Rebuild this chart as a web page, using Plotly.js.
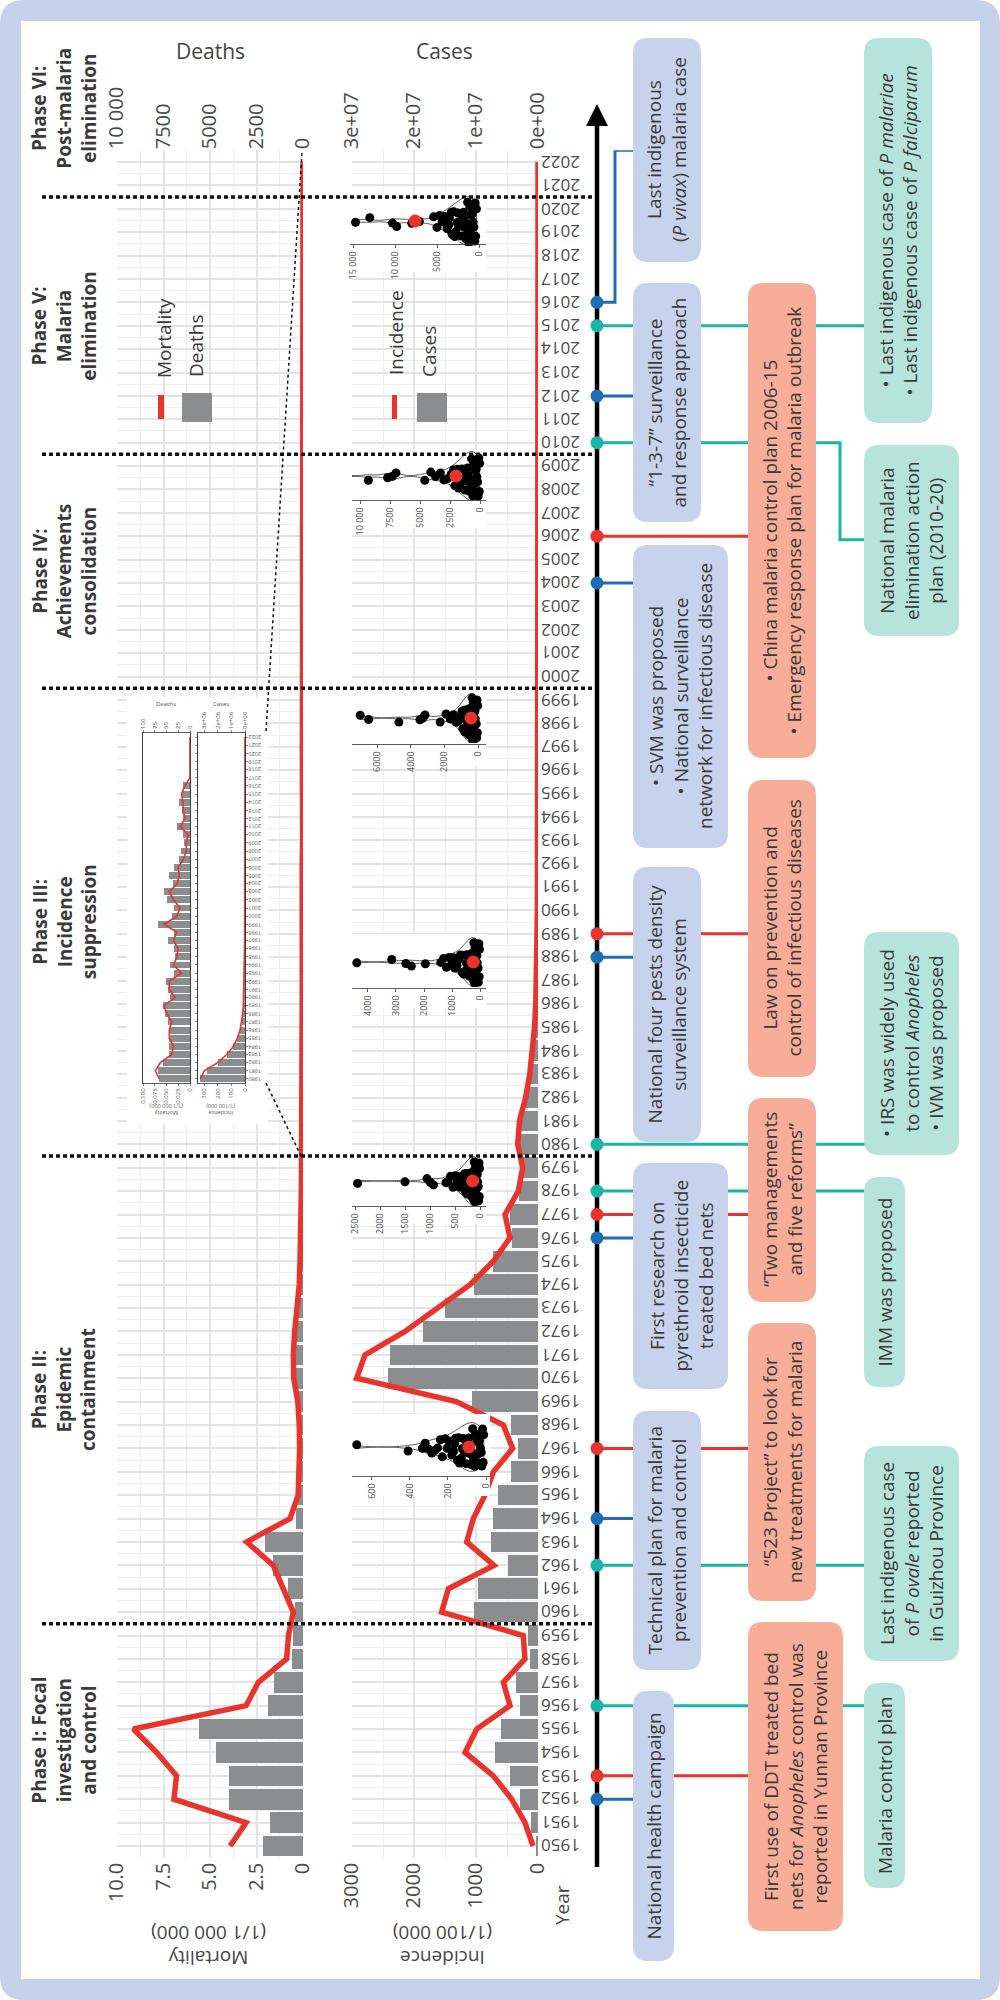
<!DOCTYPE html>
<html><head><meta charset="utf-8">
<script src="https://cdn.plot.ly/plotly-3.0.1.min.js"></script>
<style>html,body{margin:0;padding:0;background:#fff}#chart{width:1000px;height:2000px}</style>
</head><body><div id="chart"></div>
<script>
// ---------------- DATA ----------------
const years = [1950,1951,1952,1953,1954,1955,1956,1957,1958,1959,
1960,1961,1962,1963,1964,1965,1966,1967,1968,1969,
1970,1971,1972,1973,1974,1975,1976,1977,1978,1979,
1980,1981,1982,1983,1984,1985,1986,1987,1988,1989,
1990,1991,1992,1993,1994,1995,1996,1997,1998,1999,
2000,2001,2002,2003,2004,2005,2006,2007,2008,2009,
2010,2011,2012,2013,2014,2015,2016,2017,2018,2019,
2020,2021,2022];
const deaths = [2150,1770,3970,3980,4680,5590,1880,1560,600,560,
450,800,1600,2050,400,330,300,300,320,350,
420,430,420,350,200,150,130,110,90,80,
67,69,58,44,44,44,42,46,53,58,
42,46,51,34,42,32,34,46,35,68,
39,35,49,56,37,44,33,23,20,13,
14,28,14,18,23,18,14,0,0,0,
0,0,0];
const mortality = [3.92,3.06,6.94,6.8,7.87,9.12,3.06,2.4,0.88,0.78,
0.52,1.1,1.6,3.03,0.7,0.26,0.2,0.18,0.2,0.28,
0.5,0.52,0.45,0.33,0.2,0.16,0.12,0.1,0.09,0.08,
0.065,0.074,0.063,0.039,0.035,0.044,0.044,0.039,0.049,0.056,
0.032,0.044,0.044,0.018,0.035,0.028,0.025,0.035,0.028,0.055,
0.028,0.021,0.035,0.044,0.027,0.023,0.025,0.014,0.008,0.008,
0.004,0.02,0.011,0.014,0.015,0.018,0.011,0,0,0,
0,0,0];
const cases = [3.0e5,1.18e6,2.9e6,4.52e6,6.94e6,5.97e6,2.9e6,3.55e6,1.29e6,1.56e6,
1.027e7,9.63e6,4.79e6,7.63e6,7.31e6,6.4e6,4.35e6,3.17e6,4.35e6,1.07e7,
2.414e7,2.387e7,1.86e7,1.5e7,1.027e7,7.2e6,4.24e6,4.52e6,3.01e6,2.63e6,
3.3e6,2.8e6,2.0e6,1.33e6,9.0e5,5.6e5,3.8e5,2.5e5,1.8e5,1.3e5,
1.15e5,1.0e5,7.5e4,6.5e4,6.0e4,5.0e4,3.9e4,3.4e4,3.3e4,2.9e4,
2.5e4,2.6e4,3.6e4,4.1e4,3.9e4,4.1e4,6.0e4,4.6e4,2.7e4,1.4e4,
7.5e3,4.5e3,2.7e3,4.1e3,3.1e3,3.1e3,3.3e3,2.7e3,2.7e3,2.7e3,
1.1e3,8.0e2,8.5e2];
const incidence = [80,210,424,720,1177,989,452,559,210,237,
1554,1446,710,1150,1043,855,720,409,559,1317,
2925,2790,2145,1634,1097,720,452,532,317,247,
327,298,200,133,85,56,36,24,17,12,
10,9,7,6,6,5,3.5,3,3,2.5,
2,2,2.8,3.1,3,3.2,4.6,3.5,2,1.1,
0.56,0.33,0.18,0.3,0.22,0.22,0.23,0.19,0.18,0.19,
0.08,0.06,0.06];

const phaseNames = ["Phase I: Focal<br>investigation<br>and control","Phase II:<br>Epidemic<br>containment","Phase III:<br>Incidence<br>suppression","Phase IV:<br>Achievements<br>consolidation","Phase V:<br>Malaria<br>elimination","Phase VI:<br>Post-malaria<br>elimination"];
const phaseStart = [1950,1960,1980,2000,2010,2021];
const phaseEnd = [1959,1979,1999,2009,2020,2022];

const eventYears = [1952,1953,1956,1962,1964,1967,1976,1977,1978,1980,1988,1989,2004,2006,2010,2012,2015,2016];
const eventColumn = [1,2,3,3,1,2,1,2,3,3,1,2,1,2,3,1,3,1];
const eventTargetYear = [1952,1953,1956,1962,1964,1967,1976,1977,1978,1980,1988,1989,2004,2006,2005.85,2012,2015,2022.5];

const swarm1960s = [680,410,335,320,300,285,270,255,240,230,215,205,195,180,170,165,160,150,145,140,130,125,120,115,110,105,98,95,90,88,85,78,75,70,65,60,55,52,48,45,40,35,30,28,25,22,18,15,12];
const swarm1970s = [2450,1500,1060,990,930,680,640,590,540,500,460,430,400,370,340,310,290,270,250,240,230,210,200,190,175,165,160,150,145,135,130,120,115,105,100,90,85,75,70,60,55,45,40,35,28,20,15,10];
const swarm1980s = [4400,3150,2650,2450,1950,1400,1300,1200,1100,1000,950,900,820,760,700,640,600,580,520,480,470,420,400,380,350,340,300,290,270,250,240,220,210,190,180,160,150,130,120,110,100,80,70,60,40,30,20];
const swarm1990s = [7000,6500,4700,3450,3300,3150,2250,1900,1650,1450,1300,1150,1000,950,900,820,780,740,700,660,620,600,560,540,500,480,450,420,400,370,350,320,300,280,260,240,220,200,180,160,130,100,80,60,40,20];
const swarm2000s = [11500,9300,7700,7300,7000,4600,4100,3700,3300,3000,2700,2400,2200,2100,1900,1800,1700,1600,1500,1400,1350,1250,1200,1100,1050,950,900,850,800,700,650,600,520,480,450,380,350,320,260,220,200,150,100,60,30];
const swarm2010s = [14700,13000,10300,9800,8000,7100,5400,5000,4700,4400,4100,3800,3600,3500,3300,3200,3000,2900,2800,2600,2500,2400,2200,2100,2000,1900,1850,1700,1600,1550,1400,1350,1300,1200,1100,1050,1000,900,850,800,700,650,600,500,450,400,300];
const swarmMeans = [90,146,240,420,2000,7600];

// ---------------- STYLE / LAYOUT HELPERS ----------------
const X = p => p / 1000;
const Y = p => 1 - p / 2000;
const FONT = '"Open Sans", "Noto Sans", sans-serif';
const TXT = '#3a3a3a';
const TICK = '#4a4a4a';
const RED = '#e8342c', BLUE = '#1f6db6', TEAL = '#19b5a6', GREY = '#8b8d8f';
const BOXFILL = {1:'#c7d2ec', 2:'#f7ad97', 3:'#b7e3dd'};
const LINECOL = {1:BLUE, 2:RED, 3:TEAL};
const COLX = {1:633, 2:748, 3:864};
const FRAME = '#c6d1ea';
const GRID = '#e4e4e4', GRIDMINOR = '#eeeeee';
const yDom = [Y(1857.7), Y(150.3)];
const yRange = [1949.5, 2022.5];

function rr(x0,y0,x1,y1,r){
  return `M ${X(x0+r)},${Y(y0)} L ${X(x1-r)},${Y(y0)} Q ${X(x1)},${Y(y0)} ${X(x1)},${Y(y0+r)} `+
         `L ${X(x1)},${Y(y1-r)} Q ${X(x1)},${Y(y1)} ${X(x1-r)},${Y(y1)} L ${X(x0+r)},${Y(y1)} `+
         `Q ${X(x0)},${Y(y1)} ${X(x0)},${Y(y1-r)} L ${X(x0)},${Y(y0+r)} Q ${X(x0)},${Y(y0)} ${X(x0+r)},${Y(y0)} Z`;
}

const traces = [];
traces.push({type:'bar', orientation:'h', x:deaths, y:years, xaxis:'x', yaxis:'y', marker:{color:GREY}, width:0.88, hoverinfo:'skip'});
traces.push({type:'scatter', mode:'lines', x:mortality, y:years, xaxis:'x2', yaxis:'y', line:{color:RED, width:5.5}, hoverinfo:'skip'});
traces.push({type:'bar', orientation:'h', x:cases, y:years, xaxis:'x3', yaxis:'y', marker:{color:GREY}, width:0.88, hoverinfo:'skip'});
traces.push({type:'scatter', mode:'lines', x:incidence, y:years, xaxis:'x4', yaxis:'y', line:{color:RED, width:5.5}, hoverinfo:'skip'});
traces.push({type:'scatter', mode:'markers', x:eventYears.map(()=>0), y:eventYears, xaxis:'x5', yaxis:'y10',
  marker:{size:13, color:eventColumn.map(c=>LINECOL[c])}, hoverinfo:'skip'});
traces.push({type:'scatter', mode:'markers', x:[0], y:[0], xaxis:'x6', yaxis:'y2', marker:{opacity:0}, hoverinfo:'skip'});
const my = years.slice(30);
traces.push({type:'bar', orientation:'h', x:deaths.slice(30), y:my, xaxis:'x7', yaxis:'y3', marker:{color:GREY}, width:0.85, hoverinfo:'skip'});
traces.push({type:'scatter', mode:'lines', x:mortality.slice(30), y:my, xaxis:'x8', yaxis:'y3', line:{color:RED, width:1.6}, hoverinfo:'skip'});
traces.push({type:'bar', orientation:'h', x:cases.slice(30), y:my, xaxis:'x9', yaxis:'y3', marker:{color:GREY}, width:0.85, hoverinfo:'skip'});
traces.push({type:'scatter', mode:'lines', x:incidence.slice(30), y:my, xaxis:'x10', yaxis:'y3', line:{color:RED, width:1.6}, hoverinfo:'skip'});

const insets = [
 {vals:swarm1960s, dom:[352,490], range:[705,-21], cy:1447, axisY:1476, tv:[0,200,400,600], tt:['0','200','400','600'], bg:[1414,1496], bw:45},
 {vals:swarm1970s, dom:[352,486], range:[2560,-120], cy:1181, axisY:1206, tv:[0,500,1000,1500,2000,2500], tt:['0','500','1000','1500','2000','2500'], bg:[1152,1224], bw:140},
 {vals:swarm1980s, dom:[352,486], range:[4571,-214], cy:962, axisY:988, tv:[0,1000,2000,3000,4000], tt:['0','1000','2000','3000','4000'], bg:[934,1008], bw:250},
 {vals:swarm1990s, dom:[352,486], range:[7487,-475], cy:718, axisY:744, tv:[0,2000,4000,6000], tt:['0','2000','4000','6000'], bg:[692,766], bw:420},
 {vals:swarm2000s, dom:[352,486], range:[10667,-500], cy:476, axisY:500, tv:[0,2500,5000,7500,10000], tt:['0','2500','5000','7500','10 000'], bg:[450,528], bw:620},
 {vals:swarm2010s, dom:[350,486], range:[15357,-833], cy:221, axisY:244, tv:[0,5000,10000,15000], tt:['0','5000','10 000','15 000'], bg:[198,272], bw:880},
];

const layout = {
  width:1000, height:2000, margin:{l:0,r:0,t:0,b:0},
  paper_bgcolor:'#ffffff', plot_bgcolor:'rgba(0,0,0,0)',
  showlegend:false, bargap:0,
  font:{family:FONT, color:TXT},
  xaxis:{domain:[X(117),X(303)], range:[10000,0], anchor:'y', side:'top',
    tickmode:'array', tickvals:[0,2500,5000,7500,10000], ticktext:['0','2500','5000','7500','10 000'],
    tickangle:-90, tickfont:{size:20,color:TICK}, ticks:'', showline:false, zeroline:false,
    showgrid:true, gridcolor:GRID, gridwidth:2,
    minor:{tickmode:'array', tickvals:[1250,3750,6250,8750], showgrid:true, gridcolor:GRIDMINOR, gridwidth:1}},
  xaxis2:{overlaying:'x', range:[10,0], anchor:'y', side:'bottom',
    tickmode:'array', tickvals:[0,2.5,5,7.5,10], ticktext:['0','2.5','5.0','7.5','10.0'],
    tickangle:-90, tickfont:{size:20,color:TICK}, ticks:'', showgrid:false, zeroline:false, showline:false},
  xaxis3:{domain:[X(352),X(538)], range:[3e7,0], anchor:'y', side:'top',
    tickmode:'array', tickvals:[0,1e7,2e7,3e7], ticktext:['0e+00','1e+07','2e+07','3e+07'],
    tickangle:-90, tickfont:{size:20,color:TICK}, ticks:'', showline:false, zeroline:false,
    showgrid:true, gridcolor:GRID, gridwidth:2,
    minor:{tickmode:'array', tickvals:[5e6,1.5e7,2.5e7], showgrid:true, gridcolor:GRIDMINOR, gridwidth:1}},
  xaxis4:{overlaying:'x3', range:[3000,0], anchor:'y', side:'bottom',
    tickmode:'array', tickvals:[0,1000,2000,3000], ticktext:['0','1000','2000','3000'],
    tickangle:-90, tickfont:{size:20,color:TICK}, ticks:'', showgrid:false, zeroline:false, showline:false},
  yaxis:{domain:yDom, range:yRange, anchor:'x3', side:'right',
    tickmode:'array', tickvals:years, showticklabels:false, ticks:'',
    showgrid:true, gridcolor:GRID, gridwidth:2, zeroline:false, showline:false,
    minor:{tickmode:'linear', tick0:1949.5, dtick:1, showgrid:true, gridcolor:GRIDMINOR, gridwidth:1}},
  xaxis5:{domain:[X(577),X(617)], range:[-1,1], visible:false, anchor:'y10'},
  yaxis10:{domain:yDom, range:yRange, visible:false, anchor:'x5'},
  xaxis6:{domain:[0,1], range:[0,1000], visible:false, anchor:'y2'},
  yaxis2:{domain:[0,1], range:[2000,0], visible:false, anchor:'x6'},
  xaxis7:{domain:[X(143),X(190)], range:[100,0], anchor:'y3', side:'top', tickmode:'array',
    tickvals:[0,25,50,75,100], ticktext:['0','25','50','75','100'], tickangle:-90, tickfont:{size:6,color:'#555'},
    ticks:'outside', ticklen:2, tickwidth:0.6, tickcolor:'#333', showline:true, mirror:true, linecolor:'#333', linewidth:0.8, showgrid:false, zeroline:false},
  xaxis8:{overlaying:'x7', range:[0.1,0], anchor:'y3', side:'bottom', tickmode:'array',
    tickvals:[0,0.025,0.05,0.075,0.1], ticktext:['0','0.025','0.050','0.075','0.100'], tickangle:-90, tickfont:{size:6,color:'#555'},
    ticks:'outside', ticklen:2, tickwidth:0.6, tickcolor:'#333', showgrid:false, zeroline:false, showline:false},
  xaxis9:{domain:[X(198),X(245)], range:[3.44e6,0], anchor:'y3', side:'top', tickmode:'array',
    tickvals:[0,1e6,2e6,3e6], ticktext:['0e+00','1e+06','2e+06','3e+06'], tickangle:-90, tickfont:{size:6,color:'#555'},
    ticks:'outside', ticklen:2, tickwidth:0.6, tickcolor:'#333', showline:true, mirror:true, linecolor:'#333', linewidth:0.8, showgrid:false, zeroline:false},
  xaxis10:{overlaying:'x9', range:[344,0], anchor:'y3', side:'bottom', tickmode:'array',
    tickvals:[0,100,200,300], ticktext:['0','100','200','300'], tickangle:-90, tickfont:{size:6,color:'#555'},
    ticks:'outside', ticklen:2, tickwidth:0.6, tickcolor:'#333', showgrid:false, zeroline:false, showline:false},
  yaxis3:{domain:[Y(1083),Y(733)], range:[1979.5,2022.5], anchor:'x9', side:'right', tickmode:'array',
    tickvals:my, showticklabels:false, ticks:'outside', ticklen:2, tickwidth:0.6, tickcolor:'#333',
    showline:true, mirror:'all', linecolor:'#333', linewidth:0.8, showgrid:false, zeroline:false},
  shapes:[], annotations:[]
};

insets.forEach((s,i)=>{
  const xn = 11+i, yn = 4+i;
  traces.push({type:'violin', orientation:'h', x:s.vals, y0:0, xaxis:'x'+xn, yaxis:'y'+yn,
    points:'all', jitter:1, pointpos:0, width:1.95, spanmode:'hard', side:'both', bandwidth:s.bw,
    line:{color:'#333', width:0.8}, fillcolor:'rgba(255,255,255,0)',
    marker:{color:'#000', size:9, line:{width:0}}, box:{visible:false}, meanline:{visible:false}, hoverinfo:'skip'});
  traces.push({type:'scatter', mode:'markers', x:[swarmMeans[i]], y:[0], xaxis:'x'+xn, yaxis:'y'+yn,
    marker:{color:RED, size:13}, hoverinfo:'skip'});
  layout['xaxis'+xn] = {domain:[X(s.dom[0]),X(s.dom[1])], range:s.range, anchor:'free', position:Y(s.axisY),
    tickmode:'array', tickvals:s.tv, ticktext:s.tt, tickangle:-90, tickfont:{size:9,color:'#555'},
    ticks:'outside', ticklen:3, tickcolor:'#333', tickwidth:0.8, showline:true, linecolor:'#333', linewidth:0.8,
    showgrid:false, zeroline:false};
  layout['yaxis'+yn] = {domain:[Y(s.cy+25),Y(s.cy-25)], range:[-1,1], visible:false, anchor:'x'+xn};
  layout.shapes.push({type:'rect', xref:'x6', yref:'y2', x0:s.dom[0], x1:s.dom[1], y0:s.bg[0], y1:s.bg[1],
    fillcolor:'#ffffff', line:{width:0}, layer:'below'});
});
layout.shapes.push({type:'rect', xref:'x6', yref:'y2', x0:127, x1:268, y0:697, y1:1124, fillcolor:'#ffffff', line:{width:0}, layer:'below'});

// frame
layout.shapes.push({type:'path', xref:'paper', yref:'paper', path:rr(0,0,1000,2000,24), fillcolor:FRAME, line:{width:0}, layer:'below'});
layout.shapes.push({type:'rect', xref:'paper', yref:'paper', x0:X(21), x1:X(980), y0:Y(1979), y1:Y(21), fillcolor:'#ffffff', line:{width:0}, layer:'below'});

// connectors
eventYears.forEach((yr,i)=>{
  const col = eventColumn[i], tgt = eventTargetYear[i];
  let path;
  if (tgt === yr) {
    path = `M ${X(597)},${yr} L ${X(COLX[col]+2)},${yr}`;
  } else {
    const ex = col === 1 ? 615 : 840;
    path = `M ${X(597)},${yr} L ${X(ex)},${yr} L ${X(ex)},${tgt} L ${X(COLX[col]+2)},${tgt}`;
  }
  layout.shapes.push({type:'path', xref:'paper', yref:'y', path, line:{color:LINECOL[col], width:3}, layer:'below'});
});
layout.shapes.push({type:'line', xref:'paper', yref:'paper', x0:X(597), x1:X(597), y0:Y(1867), y1:Y(124), line:{color:'#000', width:4.5}, layer:'below'});
layout.shapes.push({type:'path', xref:'paper', yref:'paper', path:`M ${X(586)},${Y(126)} L ${X(608)},${Y(126)} L ${X(597)},${Y(104)} Z`, fillcolor:'#000', line:{width:0}, layer:'below'});

// boxes
const boxes = [
 [1,1691,1961,1,"National health campaign"],
 [1,1411,1670,2,"Technical plan for malaria<br>prevention and control"],
 [1,1163,1389,3,"First research on<br>pyrethroid insecticide<br>treated bed nets"],
 [1,867,1142,2,"National four pests density<br>surveillance system"],
 [1,545,848,3,"• SVM was proposed<br>• National surveillance<br>network for infectious disease"],
 [1,283,522,2,"“1-3-7” surveillance<br>and response approach"],
 [1,38,262,2,"Last indigenous<br>(<i>P vivax</i>) malaria case"],
 [2,1622,1931,3,"First use of DDT treated bed<br>nets for <i>Anopheles</i> control was<br>reported in Yunnan Province"],
 [2,1323,1601,2,"“523 Project” to look for<br>new treatments for malaria"],
 [2,1098,1302,2,"“Two managements<br>and five reforms”"],
 [2,780,1077,2,"Law on prevention and<br>control of infectious diseases"],
 [2,283,758,2,"• China malaria control plan 2006-15<br>• Emergency response plan for malaria outbreak"],
 [3,1683,1888,1,"Malaria control plan"],
 [3,1446,1661,3,"Last indigenous case<br>of <i>P ovale</i> reported<br>in Guizhou Province"],
 [3,1177,1387,1,"IMM was proposed"],
 [3,932,1155,3,"• IRS was widely used<br>to control <i>Anopheles</i><br>• IVM was proposed"],
 [3,445,636,3,"National malaria<br>elimination action<br>plan (2010-20)"],
 [3,38,423,2,"• Last indigenous case of <i>P malariae</i><br>• Last indigenous case of <i>P falciparum</i>"]
];
boxes.forEach(b=>{
  const [col,y0,y1,n,txt] = b;
  const x0 = COLX[col], x1 = x0 + 14 + 27*n;
  layout.shapes.push({type:'path', xref:'paper', yref:'paper', path:rr(x0,y0,x1,y1,15), fillcolor:BOXFILL[col], line:{width:0}, layer:'above'});
  layout.annotations.push({xref:'paper', yref:'paper', x:X((x0+x1)/2), y:Y((y0+y1)/2), text:txt, showarrow:false,
    textangle:-90, font:{size:19, color:TXT, family:FONT}, xanchor:'center', yanchor:'middle'});
});

// phases
phaseStart.forEach((s,i)=>{
  if (i>0) layout.shapes.push({type:'line', xref:'paper', yref:'y', x0:X(42), x1:X(594), y0:s-0.5, y1:s-0.5,
    line:{color:'#111', width:3.5, dash:'4px,3px'}, layer:'above'});
  layout.annotations.push({xref:'paper', yref:'y', x:X(64), y:(s-0.5+phaseEnd[i]+0.5)/2, yshift: i===5 ? 65 : 0,
    text:phaseNames[i], showarrow:false, textangle:-90, font:{size:19, color:TXT, family:FONT, weight:700}, xanchor:'center', yanchor:'middle'});
});

// year labels (upside down, as in the rotated original)
years.forEach(yr=>{
  layout.annotations.push({xref:'paper', yref:'y', x:X(561), y:yr, text:String(yr), showarrow:false, textangle:180,
    font:{size:17, color:TICK, family:FONT}, xanchor:'center', yanchor:'middle'});
});
my.forEach(yr=>{
  layout.annotations.push({xref:'paper', yref:'y3', x:X(255), y:yr, text:String(yr), showarrow:false, textangle:180,
    font:{size:5.5, color:'#555', family:FONT}, xanchor:'center', yanchor:'middle'});
});

// zoom connector lines
layout.shapes.push({type:'line', xref:'paper', yref:'paper', x0:X(266), y0:Y(731), x1:X(302), y1:Y(152), line:{color:'#111', width:1.5, dash:'dot'}, layer:'above'});
layout.shapes.push({type:'line', xref:'paper', yref:'paper', x0:X(266), y0:Y(1083), x1:X(301), y1:Y(1156), line:{color:'#111', width:1.5, dash:'dot'}, layer:'above'});

// legends
layout.shapes.push({type:'rect', xref:'paper', yref:'paper', x0:X(158), x1:X(164), y0:Y(419), y1:Y(395), fillcolor:RED, line:{width:0}});
layout.shapes.push({type:'rect', xref:'paper', yref:'paper', x0:X(182), x1:X(212), y0:Y(422), y1:Y(393), fillcolor:GREY, line:{width:0}});
layout.shapes.push({type:'rect', xref:'paper', yref:'paper', x0:X(392), x1:X(397), y0:Y(419), y1:Y(395), fillcolor:RED, line:{width:0}});
layout.shapes.push({type:'rect', xref:'paper', yref:'paper', x0:X(417), x1:X(447), y0:Y(422), y1:Y(393), fillcolor:GREY, line:{width:0}});
const ann = (x,y,text,opt={}) => layout.annotations.push(Object.assign({xref:'paper', yref:'paper', x:X(x), y:Y(y), text, showarrow:false,
  xanchor:'center', yanchor:'middle', font:{size:19, color:TXT, family:FONT}}, opt));
ann(164,338,'Mortality',{textangle:-90});
ann(196,346,'Deaths',{textangle:-90});
ann(396,333,'Incidence',{textangle:-90});
ann(429,352,'Cases',{textangle:-90});

ann(210,51,'Deaths',{font:{size:21,color:'#444',family:FONT}});
ann(444,51,'Cases',{font:{size:21,color:'#444',family:FONT}});
ann(209,1946,'Mortality<br>(1/1 000 000)',{textangle:180, font:{size:19,color:'#444',family:FONT}});
ann(443,1946,'Incidence<br>(1/100 000)',{textangle:180, font:{size:19,color:'#444',family:FONT}});
ann(562,1905,'Year',{textangle:-90, font:{size:19,color:'#444',family:FONT}});
ann(166,704,'Deaths',{font:{size:6,color:'#555',family:FONT}});
ann(221,704,'Cases',{font:{size:6,color:'#555',family:FONT}});
ann(166,1110,'Mortality<br>(1/1 000 000)',{textangle:180, font:{size:5.5,color:'#555',family:FONT}});
ann(221,1110,'Incidence<br>(1/100 000)',{textangle:180, font:{size:5.5,color:'#555',family:FONT}});

Plotly.newPlot('chart', traces, layout, {displayModeBar:false, staticPlot:true});
</script></body></html>
